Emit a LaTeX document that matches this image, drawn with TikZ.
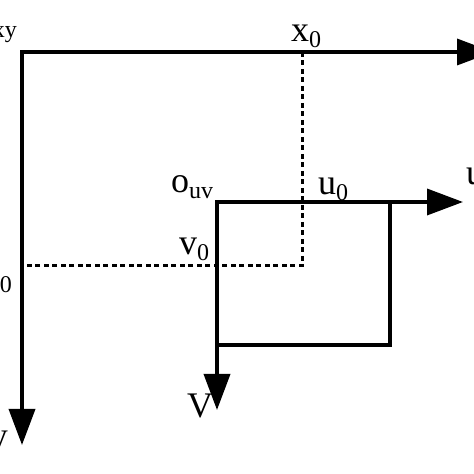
\documentclass[tikz,border=0pt]{standalone}
\usepackage{fontspec}
\setmainfont{Liberation Serif}
\usepackage{tikz}
\usetikzlibrary{arrows}
\usetikzlibrary{arrows.meta}
\newcommand{\sublab}[2]{#1\raisebox{-6pt}{\fontsize{24}{24}\selectfont #2}}

\begin{document}
\begin{tikzpicture}[x=1pt,y=1pt,
  axis/.style={line width=3.6pt,{Triangle[length=36pt,width=26pt]}-{Triangle[length=36pt,width=26pt]}},
  dashline/.style={line width=3pt,dash pattern=on 5pt off 3.5pt},
  lab/.style={inner sep=0pt,font=\fontsize{36}{42}\selectfont}]
\useasboundingbox (0,0) rectangle (474,474);
\coordinate (Oxy) at (22,422);
\coordinate (Xend) at (493,422);
\coordinate (Yend) at (22,29);
\coordinate (Ouv) at (217,272);
\coordinate (Uend) at (463,272);
\coordinate (Vend) at (217,64);
\coordinate (Ru) at (390,272);
\coordinate (Rb) at (390,129);
\coordinate (Lb) at (217,129);
\coordinate (X0) at (302,422);
\coordinate (P) at (302,208);
\coordinate (Y0) at (22,208);
\draw[axis] (Yend) -- (Oxy) -- (Xend);
\draw[axis] (Vend) -- (Ouv) -- (Uend);
\draw[line width=3.6pt] (Ru) -- (Rb) -- (Lb);
\draw[dashline] (X0) -- (P) -- (Y0);
\node[lab,anchor=base east] (oxy) at (17,442) {\sublab{o}{xy}};
\node[lab,anchor=base west] (x0) at (291,432) {\sublab{x}{0}};
\node[lab,anchor=base east] (y0) at (12,187) {\sublab{y}{0}};
\node[lab,anchor=base east] (ylab) at (8,27) {y};
\node[lab,anchor=base west] (ouv) at (171,281) {\sublab{o}{uv}};
\node[lab,anchor=base west] (u0) at (318,279) {\sublab{u}{0}};
\node[lab,anchor=base west] (v0) at (179,219) {\sublab{v}{0}};
\node[lab,anchor=base west] (ulab) at (466,289) {u};
\node[lab,anchor=base west] (vlab) at (187,56) {V};
\end{tikzpicture}
\end{document}
